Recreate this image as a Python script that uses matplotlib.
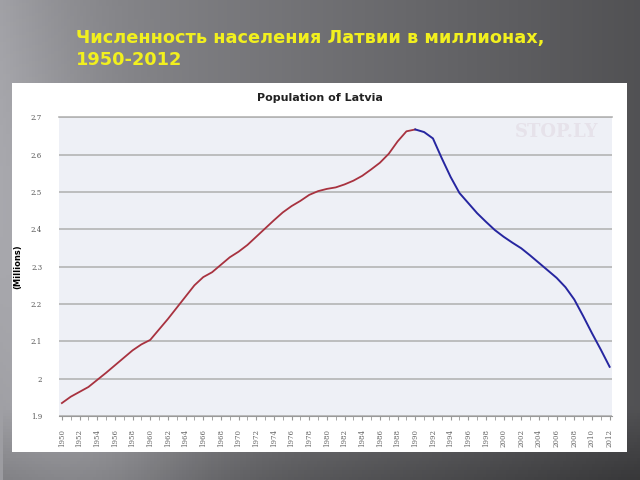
import numpy as np
import matplotlib.pyplot as plt
from matplotlib.patches import Rectangle

# population of Latvia, millions
years = list(range(1950, 2013))
population = [
    1.935, 1.952, 1.965, 1.978, 1.997, 2.016, 2.036, 2.056, 2.076, 2.092,
    2.104, 2.132, 2.160, 2.190, 2.220, 2.250, 2.272, 2.285, 2.305, 2.325,
    2.340, 2.358, 2.380, 2.402, 2.424, 2.445, 2.462, 2.476, 2.492, 2.502,
    2.508, 2.512, 2.520, 2.530, 2.543, 2.560, 2.578, 2.602, 2.635, 2.662,
    2.667, 2.660, 2.643, 2.590, 2.540, 2.497, 2.470, 2.443, 2.420, 2.398,
    2.380, 2.364, 2.349, 2.330, 2.310, 2.290, 2.270, 2.245, 2.212, 2.168,
    2.122, 2.078, 2.032,
]
split_year = 1990
y_ticks = [1.9, 2.0, 2.1, 2.2, 2.3, 2.4, 2.5, 2.6, 2.7]
y_labels = ["1.9", "2", "2.1", "2.2", "2.3", "2.4", "2.5", "2.6", "2.7"]
x_ticks = list(range(1950, 2013, 2))

fig = plt.figure(figsize=(6.4, 4.8), dpi=100)

# slide background gradient (light band on the left, dark to the right)
bg = fig.add_axes([0, 0, 1, 1])
gx = np.linspace(0, 1, 200)
gy = np.linspace(0, 1, 150)
X, Y = np.meshgrid(gx, gy)
shade = 0.56 - 0.24 * X + 0.10 * np.exp(-((X - 0.02 - 0.25 * (Y - 0.5)) ** 2) / 0.03)
shade = shade - 0.10 * np.clip((Y - 0.85) / 0.15, 0, 1) * (X > 0.0)
bg.imshow(np.dstack([shade, shade, shade * 1.03]).clip(0, 1), aspect="auto",
          extent=[0, 1, 0, 1], origin="upper")
bg.set_xlim(0, 1)
bg.set_ylim(0, 1)
bg.axis("off")

# white chart panel
bg.add_patch(Rectangle((0.019, 0.058), 0.961, 0.769, facecolor="white", edgecolor="none"))

fig.text(0.119, 0.92, "Численность населения Латвии в миллионах,",
         color="#f2f01e", fontsize=12.8, fontweight="bold", va="center")
fig.text(0.119, 0.875, "1950-2012", color="#f2f01e", fontsize=12.8,
         fontweight="bold", va="center")

ax = fig.add_axes([0.092, 0.133, 0.864, 0.623])
ax.set_facecolor("#eef0f6")

yr = np.array(years)
pop = np.array(population)
red = yr <= split_year
blue = yr >= split_year
ax.plot(yr[red], pop[red], color="#a8323f", linewidth=1.3)
ax.plot(yr[blue], pop[blue], color="#2626a0", linewidth=1.4)

ax.set_xlim(1949.66, 2012.25)
ax.set_ylim(1.9, 2.7)
ax.set_yticks(y_ticks)
ax.set_yticklabels(y_labels, fontsize=5, color="#555555", family="serif")
ax.yaxis.grid(True, color="#b4b4b4", linewidth=1.2)
ax.axhline(2.7, color="#b4b4b4", linewidth=1.2, clip_on=False, zorder=0.5)
ax.set_axisbelow(True)
ax.tick_params(axis="y", length=0, pad=12)
ax.set_xticks(x_ticks)
ax.set_xticklabels([str(x) for x in x_ticks], rotation=90, fontsize=5,
                   color="#666666", family="serif")
ax.set_xticks(years, minor=True)
ax.tick_params(axis="x", which="both", length=3, color="#999999", pad=6)
for s in ["top", "right", "left"]:
    ax.spines[s].set_visible(False)
ax.spines["bottom"].set_color("#999999")

ax.set_ylabel("(Millions)", fontsize=6, fontweight="bold", labelpad=6)
fig.text(0.5, 0.796, "Population of Latvia", ha="center", va="center",
         fontsize=8, fontweight="bold", color="#222222")
ax.text(0.9, 0.95, "STOP.LY", transform=ax.transAxes, ha="center", va="center",
        fontsize=13, fontweight="bold", family="serif", color="#e6e2ea")

fig.savefig("out.png", dpi=100)
